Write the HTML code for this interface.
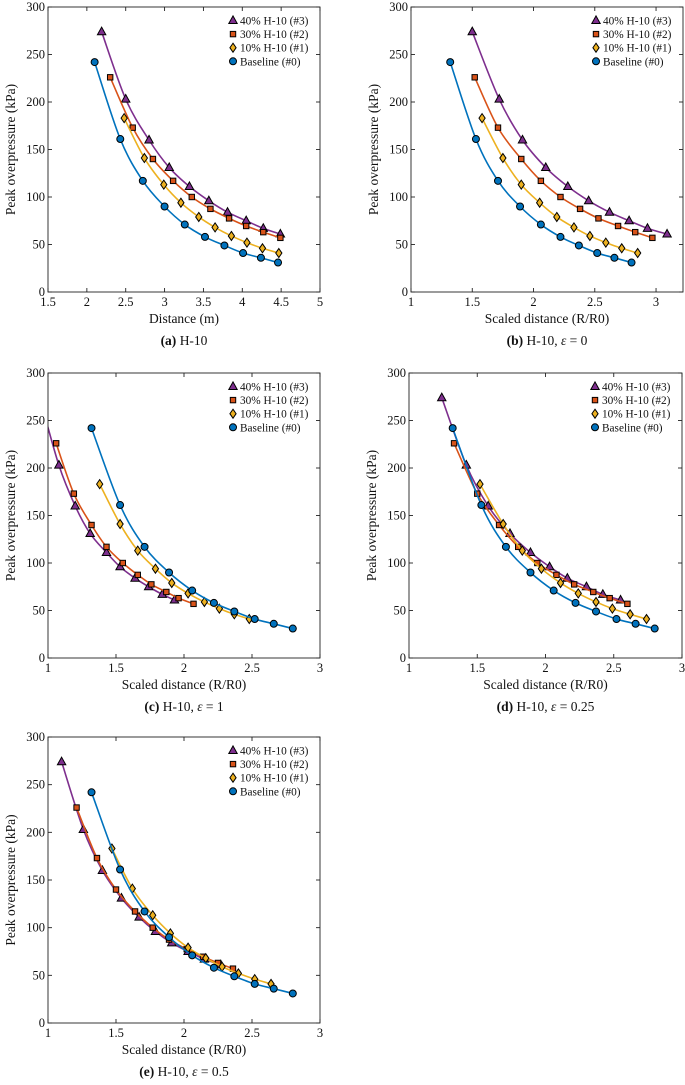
<!DOCTYPE html>
<html><head><meta charset="utf-8">
<style>
html,body{margin:0;padding:0;background:#fff;}
svg{display:block;font-family:"Liberation Serif",serif;}
</style></head>
<body>
<svg id="fig" width="685" height="1085" viewBox="0 0 685 1085" xmlns="http://www.w3.org/2000/svg"></svg>
<script>
// Shared peak overpressure values (kPa)
const p40 = [274,203,160,131,111,96,84,75,67,61];
const p30 = [226,173,140,117,100,87.5,77.5,69.5,63,57];
const p10 = [183,141,113,94,79,68,59,52,46,41];
const p0  = [242,161,117,90,71,58,49,41,36,31];
// Panel (a) distances (m)
const a40 = [2.19,2.5,2.8,3.06,3.32,3.57,3.81,4.05,4.27,4.49];
const a30 = [2.3,2.59,2.85,3.11,3.35,3.59,3.83,4.05,4.27,4.49];
const a10 = [2.48,2.74,2.99,3.21,3.44,3.65,3.86,4.06,4.26,4.47];
const a0  = [2.1,2.43,2.72,3.0,3.26,3.52,3.77,4.01,4.24,4.46];
// Panel (b) scaled distance, eps=0
const b40 = [1.5,1.72,1.91,2.1,2.28,2.45,2.62,2.78,2.93,3.09];
const b30 = [1.52,1.71,1.9,2.06,2.22,2.38,2.53,2.69,2.83,2.97];
const b10 = [1.58,1.75,1.9,2.05,2.19,2.33,2.46,2.59,2.72,2.85];
const b0  = [1.32,1.53,1.71,1.89,2.06,2.22,2.37,2.52,2.66,2.8];
// Panel (c) eps=1
const c40 = [0.94,1.08,1.2,1.31,1.43,1.53,1.64,1.74,1.84,1.93];
const c30 = [1.06,1.19,1.32,1.43,1.55,1.66,1.76,1.87,1.96,2.07];
const c10 = [1.38,1.53,1.66,1.79,1.91,2.03,2.15,2.26,2.37,2.48];
// Panel (d) eps=0.25
const d40 = [1.24,1.42,1.58,1.74,1.89,2.03,2.16,2.3,2.42,2.55];
const d30 = [1.33,1.5,1.66,1.8,1.94,2.08,2.21,2.35,2.47,2.6];
const d10 = [1.52,1.69,1.83,1.97,2.11,2.24,2.37,2.49,2.62,2.74];
// Panel (e) eps=0.5
const e40 = [1.1,1.26,1.4,1.54,1.67,1.79,1.91,2.03,2.15,2.27];
const e30 = [1.21,1.36,1.5,1.64,1.77,1.89,2.02,2.14,2.25,2.36];
const e10 = [1.47,1.62,1.77,1.9,2.03,2.16,2.28,2.4,2.52,2.64];
// Ticks
const yTicks = [0,50,100,150,200,250,300];
const xTicksA = [1.5,2,2.5,3,3.5,4,4.5,5];
const xTicksB = [1,1.5,2,2.5,3];
const xTicksC = [1,1.5,2,2.5,3];
const legendLabels = ["40% H-10 (#3)","30% H-10 (#2)","10% H-10 (#1)","Baseline (#0)"];

const NS="http://www.w3.org/2000/svg";
const svg=document.getElementById('fig');
const COL=["#7E2F8E","#D95319","#EDB120","#0072BD"];
const MK=["tri","sq","dia","circ"];

function el(tag,attrs,parent){const e=document.createElementNS(NS,tag);for(const k in attrs)e.setAttribute(k,attrs[k]);(parent||svg).appendChild(e);return e;}

function catmull(pts){
  let d="M"+pts[0][0].toFixed(2)+","+pts[0][1].toFixed(2);
  for(let i=0;i<pts.length-1;i++){
    const p0=pts[i-1]||pts[i],p1=pts[i],p2=pts[i+1],p3=pts[i+2]||p2;
    const c1=[p1[0]+(p2[0]-p0[0])/6,p1[1]+(p2[1]-p0[1])/6];
    const c2=[p2[0]-(p3[0]-p1[0])/6,p2[1]-(p3[1]-p1[1])/6];
    d+="C"+c1[0].toFixed(2)+","+c1[1].toFixed(2)+" "+c2[0].toFixed(2)+","+c2[1].toFixed(2)+" "+p2[0].toFixed(2)+","+p2[1].toFixed(2);
  }
  return d;
}

function marker(g,type,x,y,c){
  let m;
  if(type==="tri") m=el('polygon',{points:`${x},${y-4.6} ${x+4.2},${y+3} ${x-4.2},${y+3}`},g);
  else if(type==="sq") m=el('rect',{x:x-2.7,y:y-2.7,width:5.4,height:5.4},g);
  else if(type==="dia") m=el('polygon',{points:`${x},${y-4.5} ${x+3.1},${y} ${x},${y+4.5} ${x-3.1},${y}`},g);
  else m=el('circle',{cx:x,cy:y,r:3.5},g);
  m.setAttribute('fill',c);m.setAttribute('stroke','#000');m.setAttribute('stroke-width','1');
  return m;
}

let clipId=0;
function panel(o){
  const g=el('g',{});
  
  
  const L=o.L,R=o.R,T=o.T,B=o.B;
  const sx=v=>L+(v-o.x0)/(o.x1-o.x0)*(R-L);
  const sy=v=>B-(v/300)*(B-T);
  const cid='clip'+(clipId++);
  const cp=el('clipPath',{id:cid},g);el('rect',{x:L,y:T,width:R-L,height:B-T},cp);
  o.series.forEach((xs,si)=>{
    const ys=[p40,p30,p10,p0][si];
    const sg=el('g',{'clip-path':`url(#${cid})`},g);
    
    
    const pts=xs.map((x,i)=>[sx(x),sy(ys[i])]);
    const path=el('path',{d:catmull(pts),fill:'none',stroke:COL[si],'stroke-width':1.6},sg);
    
    
    pts.forEach(p=>{const m=marker(sg,MK[si],p[0],p[1],COL[si]);
      
      });
  });
  const box=el('rect',{x:L,y:T,width:R-L,height:B-T,fill:'none',stroke:'#222','stroke-width':0.9},g);
  
  
  yTicks.forEach(v=>{const y=sy(v);
    el('line',{x1:L,x2:L+4,y1:y,y2:y,stroke:'#222','stroke-width':0.9},g);
    el('line',{x1:R,x2:R-4,y1:y,y2:y,stroke:'#222','stroke-width':0.9},g);
    const t=el('text',{x:L-3,y:y+4,'text-anchor':'end','font-size':12.5,fill:'#111'},g);t.textContent=v;
    
    });
  o.xt.forEach(v=>{const x=sx(v);
    el('line',{x1:x,x2:x,y1:B,y2:B-4,stroke:'#222','stroke-width':0.9},g);
    el('line',{x1:x,x2:x,y1:T,y2:T+4,stroke:'#222','stroke-width':0.9},g);
    const t=el('text',{x:x,y:B+14,'text-anchor':'middle','font-size':12.5,fill:'#111'},g);t.textContent=v;
    
    });
  const yl=el('text',{x:0,y:0,'text-anchor':'middle','font-size':13.5,fill:'#111',transform:`translate(${L-33},${(T+B)/2}) rotate(-90)`},g);
  yl.textContent='Peak overpressure (kPa)';
  
  
  if(o.xlabel){const xl=el('text',{x:(L+R)/2,y:B+31,'text-anchor':'middle','font-size':13.5,fill:'#111'},g);
    xl.textContent=o.xlabel;
    
    }
  const cap=el('text',{x:(L+R)/2,y:B+53,'text-anchor':'middle','font-size':13.5,fill:'#111'},g);
  
  
  cap.innerHTML=o.cap;
  const lg=el('g',{},g);
  
  
  const lx=R-87;
  legendLabels.forEach((s,i)=>{const y=T+13.5+i*13.6;
    const m=marker(lg,MK[i],lx,y,COL[i]);
    
    
    const t=el('text',{x:lx+7,y:y+4,'font-size':11.3,fill:'#111'},lg);t.textContent=s;
    
    });
}
const eps=v=>`<tspan font-weight="bold">(${v[0]})</tspan><tspan> H-10${v[1]!==null?', ':''}</tspan>`+(v[1]!==null?`<tspan font-style="italic">ε</tspan><tspan> = ${v[1]}</tspan>`:'');
panel({name:'panel-a',L:48,R:320,T:7,B:292,x0:1.5,x1:5,xt:xTicksA,series:[a40,a30,a10,a0],xlabel:'Distance (m)',cap:eps(['a',null])});
panel({name:'panel-b',L:411,R:683,T:7,B:292,x0:1,x1:3.22,xt:xTicksB,series:[b40,b30,b10,b0],xlabel:'Scaled distance (R/R0)',cap:eps(['b','0'])});
panel({name:'panel-c',L:48,R:320,T:373,B:658,x0:1,x1:3,xt:xTicksC,series:[c40,c30,c10,b0],xlabel:'Scaled distance (R/R0)',cap:eps(['c','1'])});
panel({name:'panel-d',L:409,R:682,T:373,B:658,x0:1,x1:3,xt:xTicksC,series:[d40,d30,d10,b0],xlabel:'Scaled distance (R/R0)',cap:eps(['d','0.25'])});
panel({name:'panel-e',L:48,R:320,T:737,B:1023,x0:1,x1:3,xt:xTicksC,series:[e40,e30,e10,b0],xlabel:'Scaled distance (R/R0)',cap:eps(['e','0.5'])});
</script>
</body></html>
